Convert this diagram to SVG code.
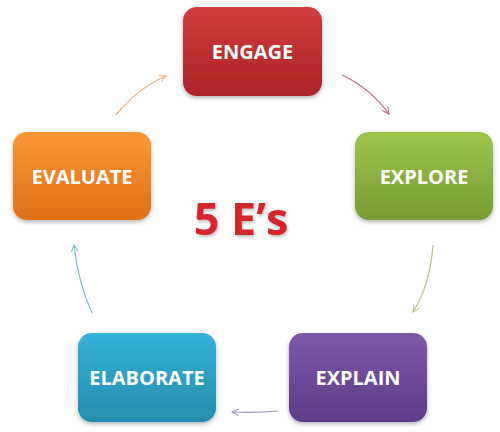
<svg xmlns="http://www.w3.org/2000/svg" width="500" height="432" viewBox="0 0 500 432">
<defs>
<linearGradient id="gRed" x1="0" y1="0" x2="0" y2="1"><stop offset="0" stop-color="#d33c3d"/><stop offset="1" stop-color="#a92427"/></linearGradient>
<linearGradient id="gGreen" x1="0" y1="0" x2="0" y2="1"><stop offset="0" stop-color="#9dc44c"/><stop offset="1" stop-color="#789c33"/></linearGradient>
<linearGradient id="gPurple" x1="0" y1="0" x2="0" y2="1"><stop offset="0" stop-color="#7e58aa"/><stop offset="1" stop-color="#5d3c87"/></linearGradient>
<linearGradient id="gBlue" x1="0" y1="0" x2="0" y2="1"><stop offset="0" stop-color="#35b2d8"/><stop offset="1" stop-color="#248dae"/></linearGradient>
<linearGradient id="gOrange" x1="0" y1="0" x2="0" y2="1"><stop offset="0" stop-color="#fc9634"/><stop offset="1" stop-color="#de7119"/></linearGradient>
<filter id="sh" x="-10%" y="-10%" width="120%" height="130%"><feDropShadow dx="0" dy="2" stdDeviation="2" flood-color="#000" flood-opacity="0.3"/></filter>
<filter id="tsh" x="-10%" y="-10%" width="120%" height="130%"><feDropShadow dx="1" dy="2" stdDeviation="1.5" flood-color="#000" flood-opacity="0.25"/></filter>
<marker id="mRed" viewBox="0 0 10 10" refX="9" refY="5" markerWidth="7" markerHeight="7" orient="auto"><path d="M1,1 L9,5 L1,9" fill="none" stroke="#b5707e" stroke-width="1.2"/></marker>
<marker id="mGreen" viewBox="0 0 10 10" refX="9" refY="5" markerWidth="7" markerHeight="7" orient="auto"><path d="M1,1 L9,5 L1,9" fill="none" stroke="#b7c68d" stroke-width="1.2"/></marker>
<marker id="mPurple" viewBox="0 0 10 10" refX="9" refY="5" markerWidth="7" markerHeight="7" orient="auto"><path d="M1,1 L9,5 L1,9" fill="none" stroke="#9a8dbf" stroke-width="1.2"/></marker>
<marker id="mBlue" viewBox="0 0 10 10" refX="9" refY="5" markerWidth="7" markerHeight="7" orient="auto"><path d="M1,1 L9,5 L1,9" fill="none" stroke="#7cbcca" stroke-width="1.2"/></marker>
<marker id="mOrange" viewBox="0 0 10 10" refX="9" refY="5" markerWidth="7" markerHeight="7" orient="auto"><path d="M1,1 L9,5 L1,9" fill="none" stroke="#e8b283" stroke-width="1.2"/></marker>
</defs>
<style>
.box{filter:url(#sh)}
.lbl{font-family:"Open Sans","DejaVu Sans",sans-serif;font-weight:bold;font-size:20px;fill:#ffffff;text-anchor:middle}
.conn{fill:none;stroke-width:1.2}
</style>
<rect width="500" height="432" fill="#ffffff"/>
<g id="connectors">
<path class="conn" d="M342,75 Q370,88 389,114" stroke="#b5707e" marker-end="url(#mRed)"/>
<path class="conn" d="M433,245 Q430,285 413,312" stroke="#b7c68d" marker-end="url(#mGreen)"/>
<path class="conn" d="M278,411 Q255,413 232,412" stroke="#9a8dbf" marker-end="url(#mPurple)"/>
<path class="conn" d="M92,313 Q78,282 74,245" stroke="#7cbcca" marker-end="url(#mBlue)"/>
<path class="conn" d="M116,115 Q138,88 166,76" stroke="#e8b283" marker-end="url(#mOrange)"/>
</g>
<g id="engage">
<rect class="box" x="183" y="7" width="139" height="89" rx="14" fill="url(#gRed)"/>
<text class="lbl" x="252.5" y="59">ENGAGE</text>
</g>
<g id="explore">
<rect class="box" x="355" y="132" width="138" height="88" rx="14" fill="url(#gGreen)"/>
<text class="lbl" x="424" y="184">EXPLORE</text>
</g>
<g id="explain">
<rect class="box" x="289" y="333" width="138" height="89" rx="14" fill="url(#gPurple)"/>
<text class="lbl" x="358" y="385">EXPLAIN</text>
</g>
<g id="elaborate">
<rect class="box" x="78" y="333" width="138" height="89" rx="14" fill="url(#gBlue)"/>
<text class="lbl" x="147" y="385">ELABORATE</text>
</g>
<g id="evaluate">
<rect class="box" x="13" y="132" width="138" height="88" rx="14" fill="url(#gOrange)"/>
<text class="lbl" x="82" y="184">EVALUATE</text>
</g>
<g id="title">
<text x="241" y="235" font-family="'Open Sans','DejaVu Sans',sans-serif" font-weight="bold" font-size="45" fill="#d7262c" text-anchor="middle" filter="url(#tsh)">5 E’s</text>
</g>
</svg>
